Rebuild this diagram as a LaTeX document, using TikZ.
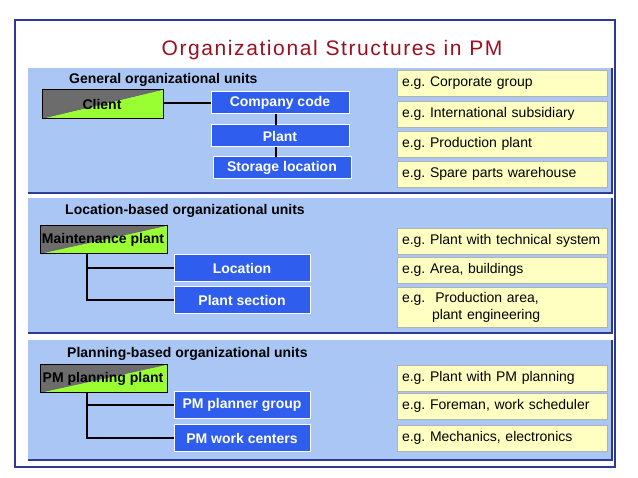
\documentclass[tikz,border=0pt]{standalone}
\usepackage{fontspec}
\setmainfont{Liberation Sans}
\frenchspacing
\begin{document}
\begin{tikzpicture}[x=1pt,y=-1pt,
  bluebox/.style={fill=boxblue,draw=white,line width=1pt,text=white,font=\bfseries\fontsize{14}{16}\selectfont,inner sep=0pt},
  ybox/.style={fill=yel,draw=gray!60,line width=0.8pt,font=\fontsize{14}{17}\selectfont,inner sep=0pt,text width=210pt,align=left},
  ttl/.style={font=\bfseries\fontsize{14}{16}\selectfont,anchor=west,inner sep=0pt},
  gnode/.style={font=\bfseries\fontsize{14}{16}\selectfont,inner sep=0pt},
  conn/.style={line width=1.2pt}]
\definecolor{panelblue}{HTML}{A9C6F5}
\definecolor{boxblue}{HTML}{2F5EEE}
\definecolor{yel}{HTML}{FFFFC2}
\definecolor{frame}{HTML}{2E3A94}
\definecolor{ttlred}{HTML}{9B1020}
\definecolor{grn}{HTML}{99FF33}
\useasboundingbox (0,0) rectangle (638,478);
\fill[white] (0,0) rectangle (638,478);
\draw[frame,line width=1.5pt] (15,20) rectangle (615,467);
\node[font=\fontsize{21}{24}\selectfont,text=ttlred] (title) at (332,50) {O\kern1.6pt r\kern1.6pt g\kern1.6pt a\kern1.6pt n\kern1.6pt i\kern1.6pt z\kern1.6pt a\kern1.6pt t\kern1.6pt i\kern1.6pt o\kern1.6pt n\kern1.6pt a\kern1.6pt l\ \kern2pt S\kern1.6pt t\kern1.6pt r\kern1.6pt u\kern1.6pt c\kern1.6pt t\kern1.6pt u\kern1.6pt r\kern1.6pt e\kern1.6pt s\ \kern2pt i\kern1.6pt n\ \kern2pt P\kern1.6pt M};
% panels
\foreach \a/\b in {68/193,198/333,340/460}{
  \fill[panelblue] (28,\a) rectangle (612,\b);
  \draw[frame,line width=1.2pt] (28,\b) -- (612,\b) -- (612,\a);
}
% panel 1
\node[ttl] (t1) at (69,80) {General organizational units};
\fill[gray!85!black] (42,90) -- (163,90) -- (42,119) -- cycle;
\fill[grn] (163,90) -- (163,119) -- (42,119) -- cycle;
\draw[black,line width=1pt] (42,90) rectangle (163,119);
\node[gnode] (client) at (102,104) {Client};
\coordinate (clientE) at (163,103);
\node[bluebox,minimum width=138pt,minimum height=22pt] (cc) at (280,103) {Company code};
\node[bluebox,minimum width=138pt,minimum height=22pt] (pl) at (280,136) {Plant};
\node[bluebox,minimum width=138pt,minimum height=22pt] (sl) at (282,168) {Storage location};
\draw[conn] (clientE) -- (cc.west);
\draw[conn] (276,114) -- (276,125);
\draw[conn] (276,147) -- (276,157);
\node[ybox,minimum height=26pt] (y1) at (502,83) {\hspace{5pt}e.g. Corporate group};
\node[ybox,minimum height=26pt] (y2) at (502,114) {\hspace{5pt}e.g. International subsidiary};
\node[ybox,minimum height=26pt] (y3) at (502,144) {\hspace{5pt}e.g. Production plant};
\node[ybox,minimum height=26pt] (y4) at (502,174) {\hspace{5pt}e.g. Spare parts warehouse};
% panel 2
\node[ttl] (t2) at (65,211) {Location-based organizational units};
\fill[gray!85!black] (40,226) -- (167,226) -- (40,254) -- cycle;
\fill[grn] (167,226) -- (167,254) -- (40,254) -- cycle;
\draw[black,line width=1pt] (40,226) rectangle (167,254);
\node[gnode] (mp) at (103,240) {Maintenance plant};
\node[bluebox,minimum width=136pt,minimum height=27pt] (loc) at (242,268) {Location};
\node[bluebox,minimum width=136pt,minimum height=27pt] (ps) at (242,300) {Plant section};
\draw[conn] (87,254) -- (87,300) -- (ps.west);
\draw[conn] (87,268) -- (loc.west);
\node[ybox,minimum height=26pt] (y5) at (502,241) {\hspace{5pt}e.g. Plant with technical system};
\node[ybox,minimum height=26pt] (y6) at (502,270) {\hspace{5pt}e.g. Area, buildings};
\node[ybox,minimum height=40pt] (y7) at (502,307) {\hspace{5pt}e.g.\hspace{10pt}Production area,\\\hspace{35pt}plant engineering};
% panel 3
\node[ttl] (t3) at (67,354) {Planning-based organizational units};
\fill[gray!85!black] (40,365) -- (167,365) -- (40,393) -- cycle;
\fill[grn] (167,365) -- (167,393) -- (40,393) -- cycle;
\draw[black,line width=1pt] (40,365) rectangle (167,393);
\node[gnode] (pp) at (103,379) {PM planning plant};
\node[bluebox,minimum width=136pt,minimum height=27pt] (pg) at (242,405) {PM planner group};
\node[bluebox,minimum width=136pt,minimum height=27pt] (wc) at (242,438) {PM work centers};
\draw[conn] (87,393) -- (87,438) -- (wc.west);
\draw[conn] (87,405) -- (pg.west);
\node[ybox,minimum height=26pt] (y8) at (502,378) {\hspace{5pt}e.g. Plant with PM planning};
\node[ybox,minimum height=26pt] (y9) at (502,406) {\hspace{5pt}e.g. Foreman, work scheduler};
\node[ybox,minimum height=26pt] (y10) at (502,438) {\hspace{5pt}e.g. Mechanics, electronics};
\end{tikzpicture}
\end{document}
